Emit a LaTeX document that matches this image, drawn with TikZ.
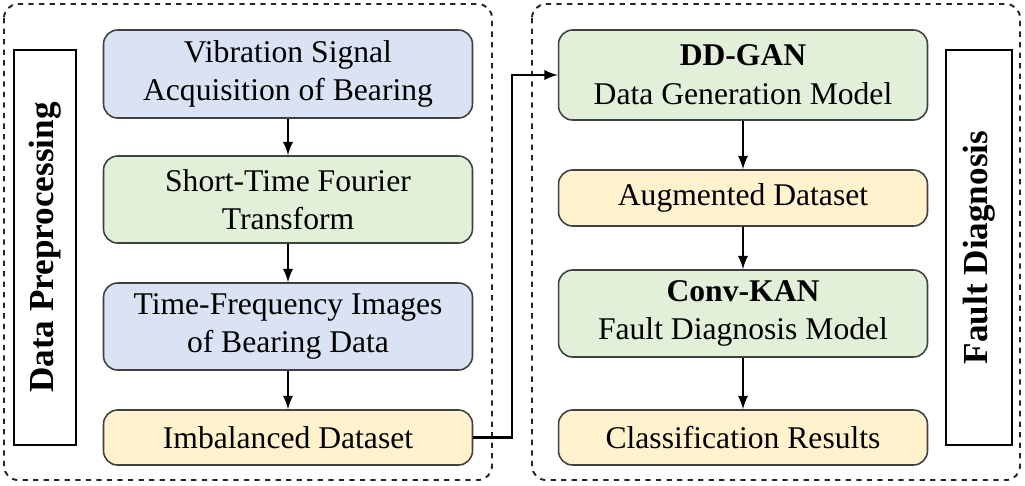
\documentclass[tikz,border=0pt]{standalone}
\usepackage{fontspec}
\setmainfont{Liberation Serif}
\definecolor{cb}{HTML}{DAE3F3}
\definecolor{cg}{HTML}{E2F0D9}
\definecolor{cy}{HTML}{FFF2CC}
\begin{document}
\begin{tikzpicture}[x=0.02cm,y=-0.02cm,
 box/.style={draw=black!75,line width=0.9pt,rounded corners=8pt,minimum width=7.38cm,align=center,font=\fontsize{18}{22}\selectfont},
 blu/.style={box,fill=cb},
 grn/.style={box,fill=cg},
 yel/.style={box,fill=cy},
 arr/.style={-latex,line width=1.6pt},
 lab/.style={draw,line width=0.9pt,font=\bfseries\fontsize{20}{24}\selectfont,rotate=90}]
\useasboundingbox (0,0) rectangle (1025,485);
\draw[dashed,line width=1.1pt,rounded corners=8pt,draw=black!85] (4,4) rectangle (492,480);
\draw[dashed,line width=1.1pt,rounded corners=8pt,draw=black!85] (532,4) rectangle (1020,480);
\node[lab,minimum width=7.9cm,minimum height=1.24cm] (lp) at (45,247.5) {Data Preprocessing};
\node[lab,minimum width=7.9cm,minimum height=1.32cm] (lf) at (979,247.5) {Fault Diagnosis};
\node[blu,minimum height=1.76cm] (a1) at (288,74) {Vibration Signal\\Acquisition of Bearing};
\node[grn,minimum height=1.74cm] (a2) at (288,199.5) {Short-Time Fourier\\Transform};
\node[blu,minimum height=1.74cm] (a3) at (288,326.5) {Time-Frequency Images\\of Bearing Data};
\node[yel,minimum height=1.1cm] (a4) at (288,437.5) {Imbalanced Dataset};
\node[grn,minimum height=1.8cm] (b1) at (743,75) {\textbf{DD-GAN}\\Data Generation Model};
\node[yel,minimum height=1.12cm] (b2) at (743,198) {Augmented Dataset};
\node[grn,minimum height=1.74cm] (b3) at (743,313.5) {\textbf{Conv-KAN}\\Fault Diagnosis Model};
\node[yel,minimum height=1.1cm] (b4) at (743,437.5) {Classification Results};
\draw[arr] (a1) -- (a2); \draw[arr] (a2) -- (a3); \draw[arr] (a3) -- (a4);
\draw[arr] (b1) -- (b2); \draw[arr] (b2) -- (b3); \draw[arr] (b3) -- (b4);
\draw[arr] (a4.east) -- (512,437.5) |- (b1.west);
\end{tikzpicture}
\end{document}
